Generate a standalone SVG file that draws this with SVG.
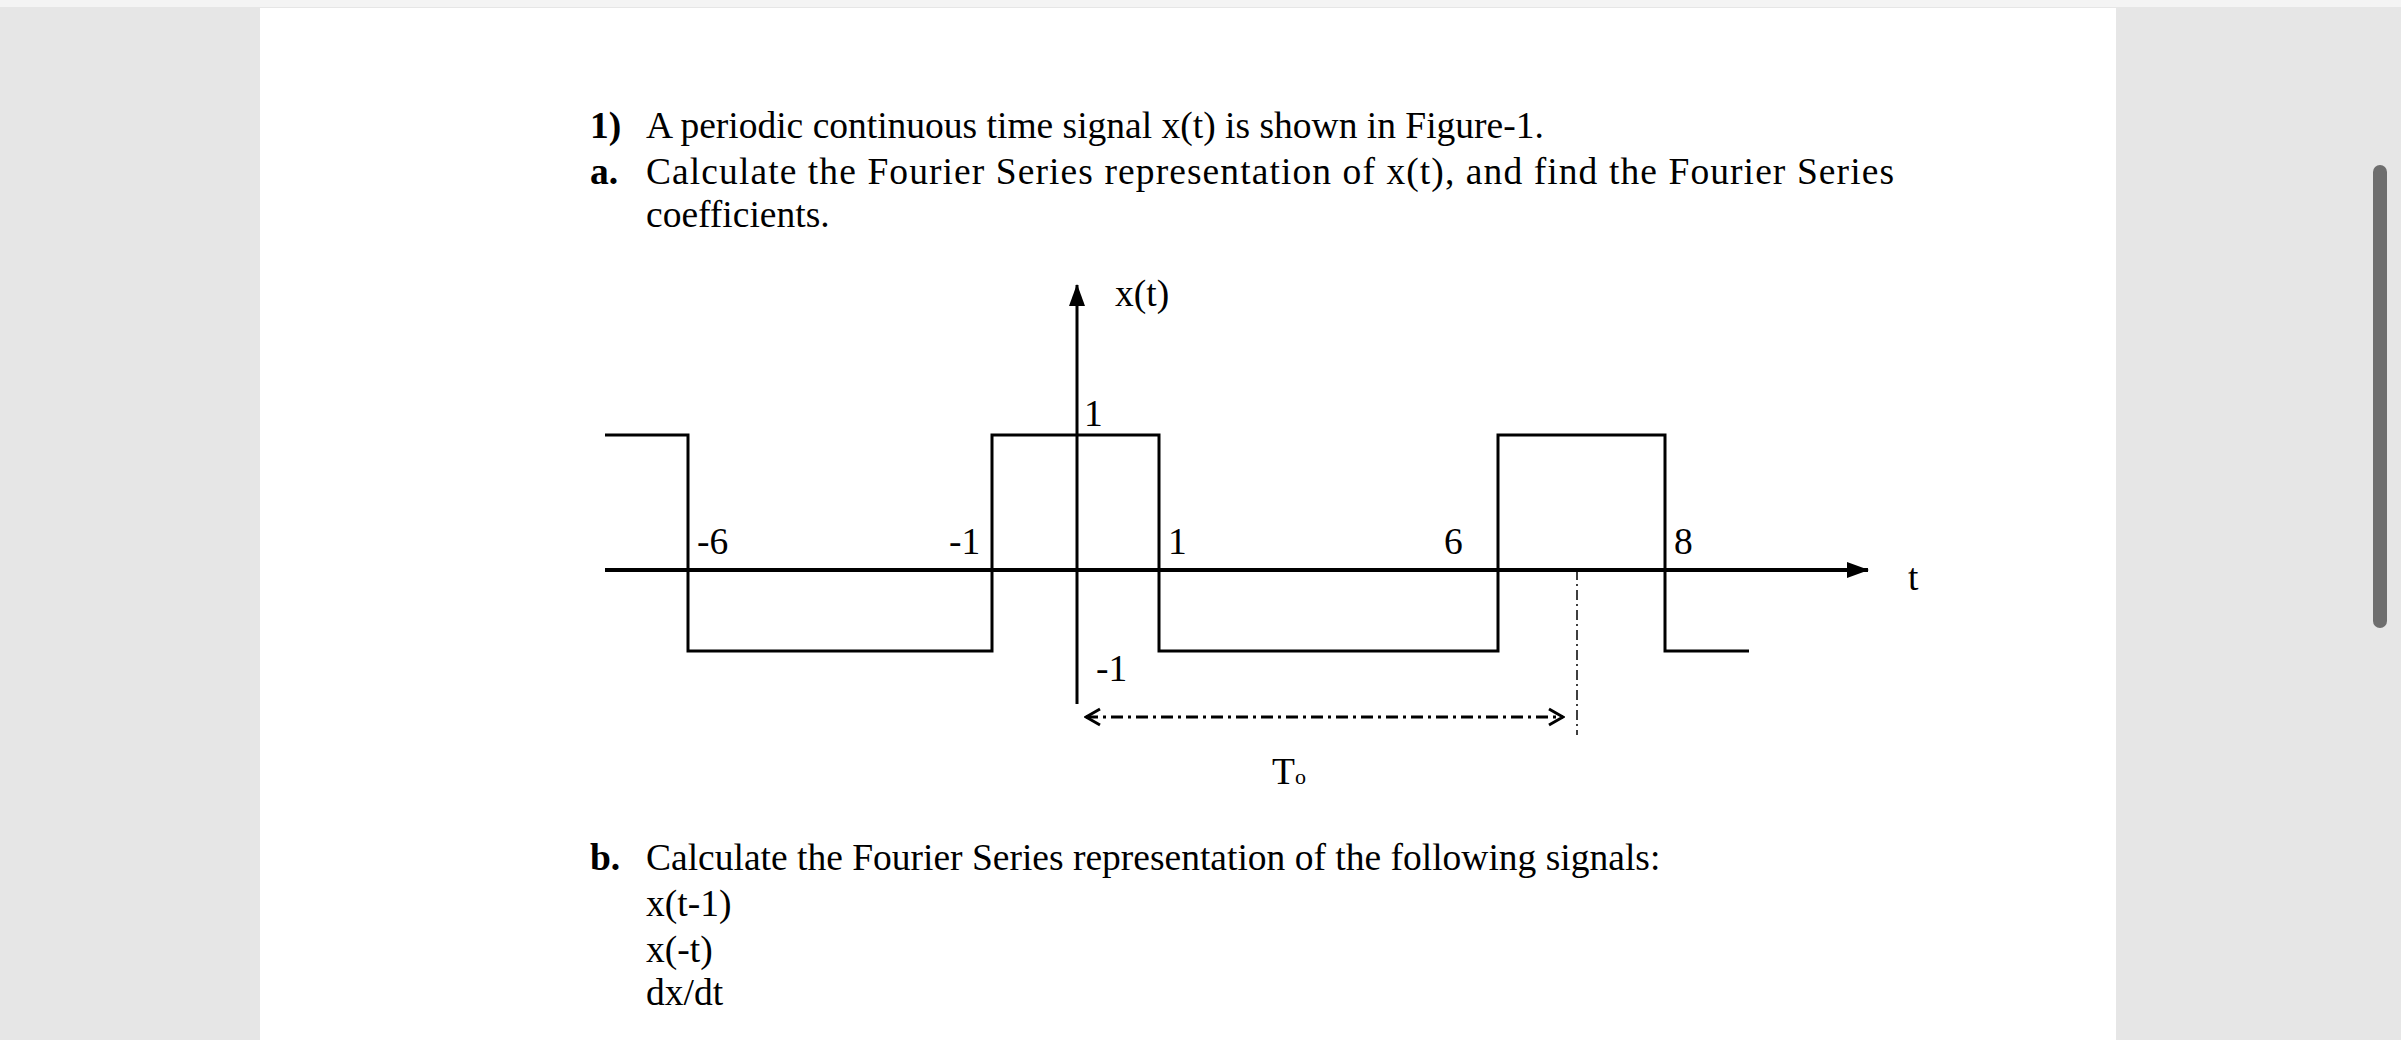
<svg xmlns="http://www.w3.org/2000/svg" width="2401" height="1040" viewBox="0 0 2401 1040">
<style>
text{font-family:"Liberation Serif",serif;font-size:37.5px;fill:#000}
.b{font-weight:bold}
.w{fill:none;stroke:#000;stroke-width:3}
.a{fill:none;stroke:#000;stroke-width:4}
</style>
<defs>
<marker id="ar" markerWidth="22" markerHeight="16" refX="21" refY="8" orient="auto" markerUnits="userSpaceOnUse"><path d="M0,0L22,8L0,16z" fill="#000"/></marker>
<marker id="ar2" viewBox="0 0 20 20" markerWidth="20" markerHeight="20" refX="18" refY="10" orient="auto-start-reverse" markerUnits="userSpaceOnUse"><path d="M4,2L18,10L4,18" fill="none" stroke="#000" stroke-width="3"/></marker>
</defs>
<rect width="2401" height="1040" fill="#e6e6e6"/>
<rect width="2401" height="7" fill="#f4f4f4"/>
<rect x="260" y="8" width="1856" height="1032" fill="#fff"/>
<rect x="2373" y="165" width="14" height="463" rx="7" fill="#6e6e6e"/>
<g id="text">
<text x="590" y="138" class="b">1)</text><text x="646" y="138">A periodic continuous time signal x(t) is shown in Figure-1.</text>
<text x="590" y="184" class="b">a.</text><text x="646" y="184" textLength="1248" lengthAdjust="spacing">Calculate the Fourier Series representation of x(t), and find the Fourier Series</text>
<text x="646" y="227">coefficients.</text>
<text x="590" y="870" class="b">b.</text><text x="646" y="870">Calculate the Fourier Series representation of the following signals:</text>
<text x="646" y="916">x(t-1)</text>
<text x="646" y="962">x(-t)</text>
<text x="646" y="1005">dx/dt</text>
</g>
<g id="connectors">
<line x1="605" y1="570" x2="1868" y2="570" class="a" marker-end="url(#ar)"/>
<line x1="1077" y1="704" x2="1077" y2="285" class="w" marker-end="url(#ar)"/>
<polyline class="w" points="605,435 688,435 688,651 992,651 992,435 1159,435 1159,651 1498,651 1498,435 1665,435 1665,651 1749,651"/>
<line x1="1577" y1="570" x2="1577" y2="735" stroke="#000" stroke-width="1.5" stroke-dasharray="10,4,2,4"/>
<line x1="1086" y1="717" x2="1563" y2="717" stroke="#000" stroke-width="3" stroke-dasharray="12,5,3,5" marker-start="url(#ar2)" marker-end="url(#ar2)"/>
</g>
<g id="labels">
<text x="1115" y="306">x(t)</text>
<text x="1908" y="590" font-size="28">t</text>
<text x="697" y="554">-6</text>
<text x="949" y="554">-1</text>
<text x="1084" y="426">1</text>
<text x="1168" y="554">1</text>
<text x="1444" y="554">6</text>
<text x="1674" y="554">8</text>
<text x="1096" y="681">-1</text>
<text x="1272" y="784">T<tspan font-size="22">o</tspan></text>
</g>
</svg>
